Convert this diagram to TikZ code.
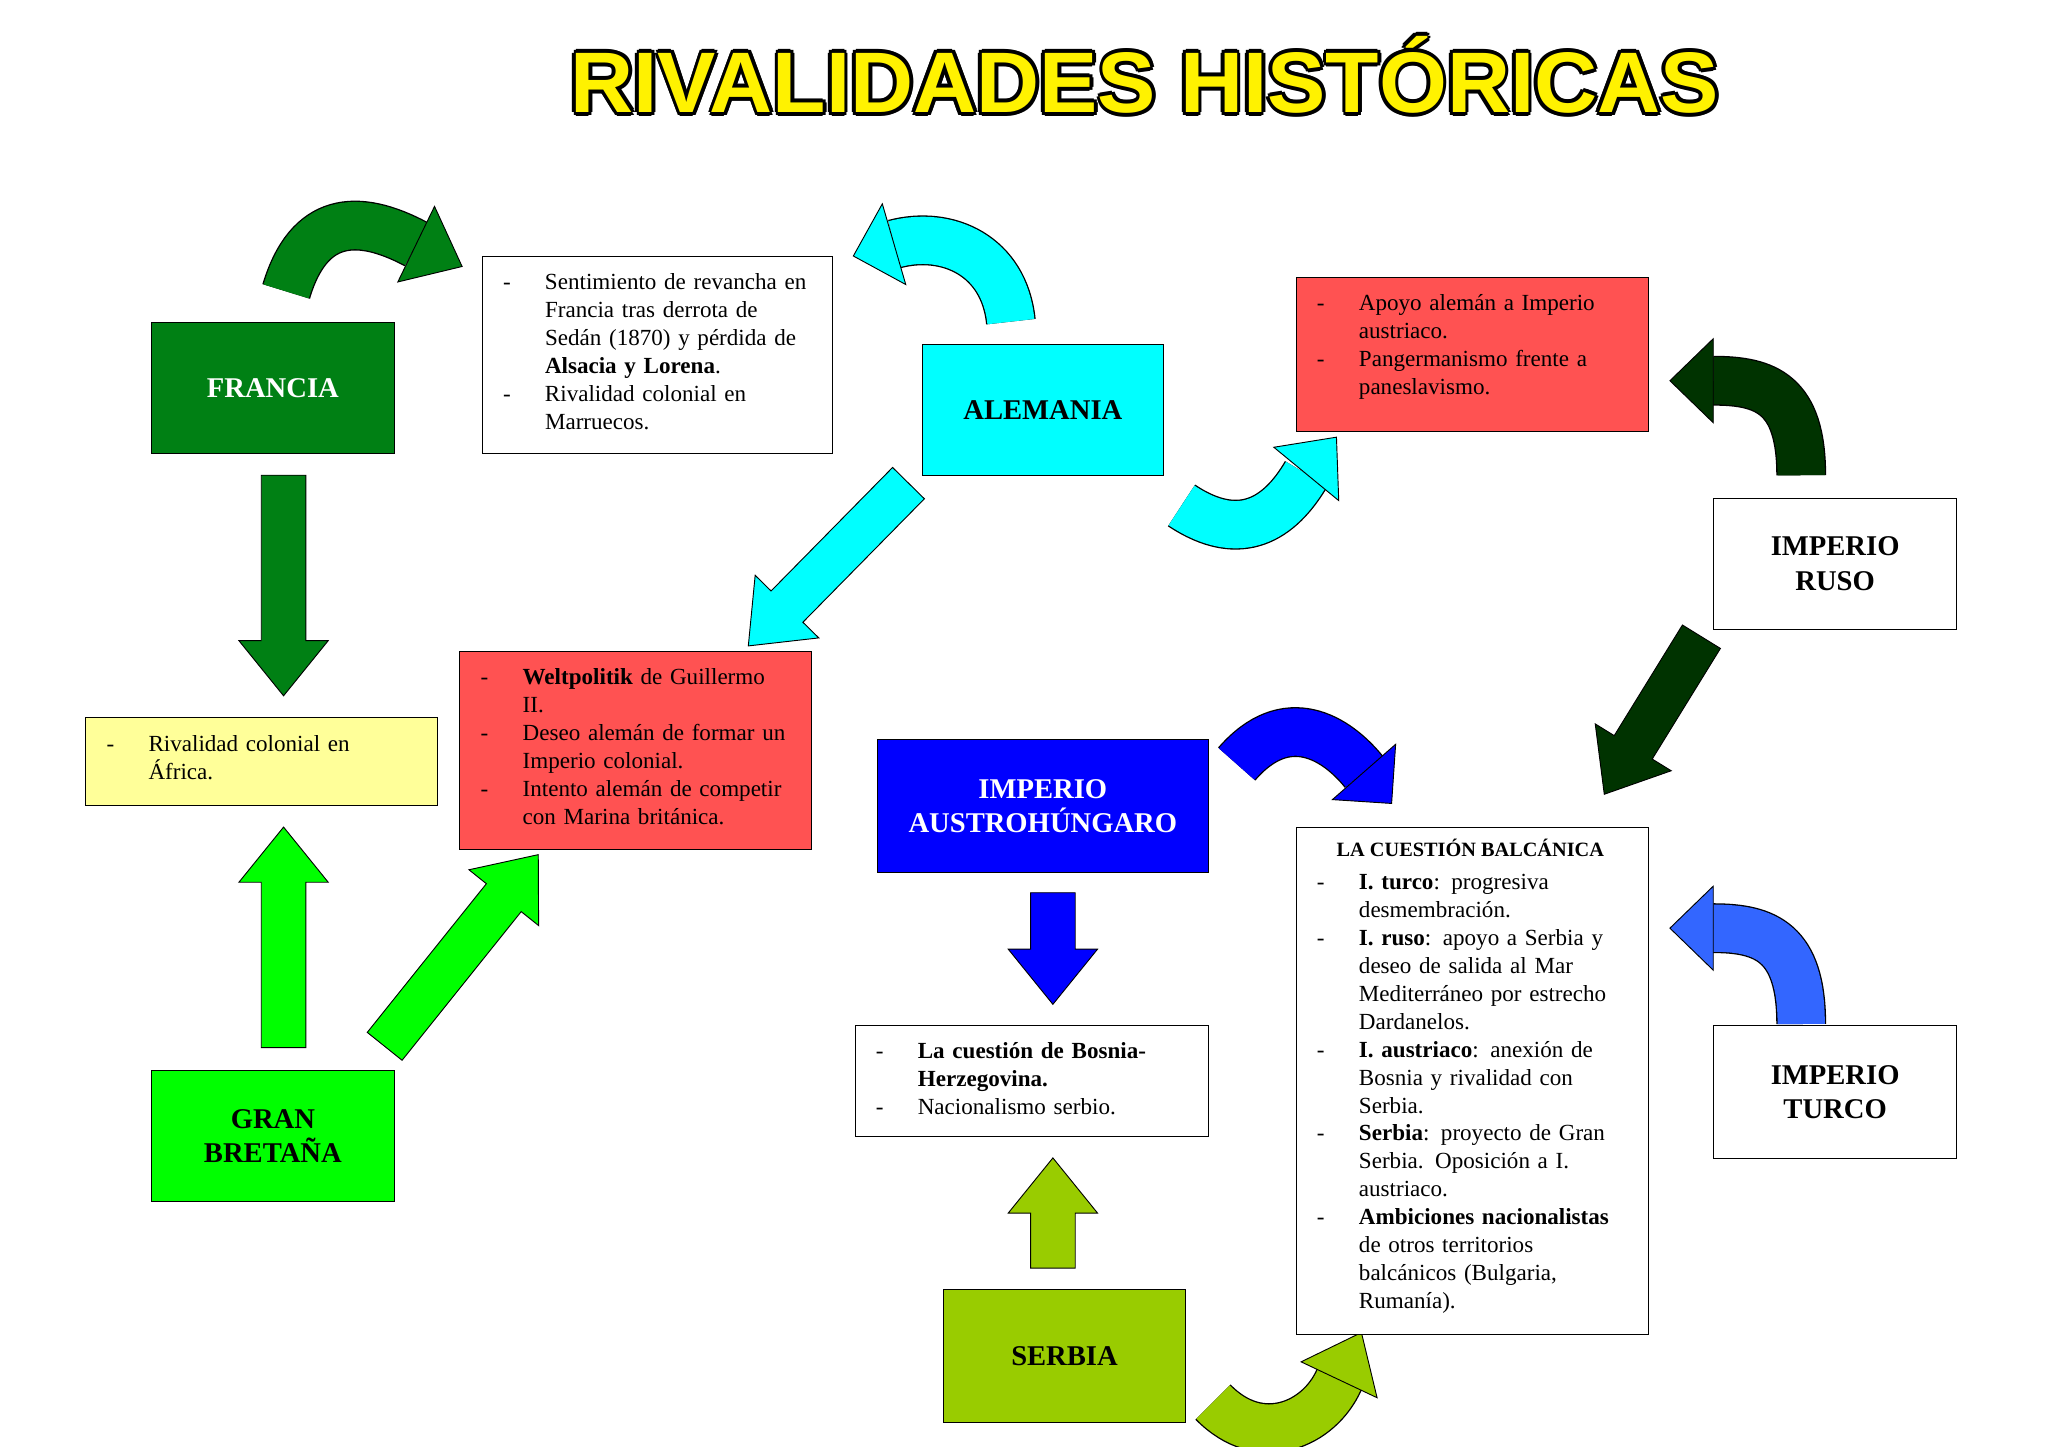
\documentclass[tikz,border=0pt]{standalone}
\usepackage{fontspec}
\setmainfont{Liberation Serif}
\newfontfamily\titlefont{Liberation Sans}
\usetikzlibrary{calc}
\definecolor{cfr}{RGB}{0,128,20}
\definecolor{cgb}{RGB}{0,255,0}
\definecolor{ccy}{RGB}{0,255,255}
\definecolor{cred}{RGB}{255,82,82}
\definecolor{cyel}{RGB}{255,255,153}
\definecolor{cbl}{RGB}{0,0,255}
\definecolor{cse}{RGB}{153,204,0}
\definecolor{cdk}{RGB}{0,51,0}
\definecolor{ctu}{RGB}{51,102,255}
\newcommand\itm{\par\noindent\hangindent=1.6cm\hangafter=1\makebox[1.6cm][l]{-}\ignorespaces}
\newcommand\body{\fontsize{25}{30.3}\selectfont}
\newcommand\hd{\fontsize{31}{37}\selectfont\bfseries}
\newcommand\barrow[5]{%
  \coordinate (bA) at #2; \coordinate (bB) at #3;
  \coordinate (bH) at ($(bB)!2.1cm!(bA)$);
  \filldraw[fill=#1,draw=black,line width=1pt]
   ($(bA)!#4!90:(bB)$) -- ($(bH)!#4!-90:(bA)$) -- ($(bH)!#5!-90:(bA)$) -- (bB)
   -- ($(bH)!#5!90:(bA)$) -- ($(bH)!#4!90:(bA)$) -- ($(bA)!#4!-90:(bB)$) -- cycle;}
\newcommand\carrow[6]{%
  \coordinate (cE) at #5; \coordinate (cT) at #6;
  \draw[black,line width=1.9cm] #2 .. controls #3 and #4 .. #5;
  \draw[#1,line width=1.8cm] #2 .. controls #3 and #4 .. #5;
  \filldraw[fill=#1,draw=black,line width=1pt]
   ($(cE)!1.6cm!90:(cT)$) -- (cT) -- ($(cE)!1.6cm!-90:(cT)$) -- cycle;}
\begin{document}
\begin{tikzpicture}[x=0.05cm,y=-0.05cm,
  cbox/.style={draw=black,line width=1pt,anchor=north west,inner sep=0pt},
  txt/.style={anchor=north west,inner sep=0pt,align=left,font=\body},
  lbl/.style={align=center,font=\hd}]
\useasboundingbox[fill=white] (0,0) rectangle (1560,1102);
\foreach \a in {0,45,...,359}{
  \node[text=black] at ($(872,57)+(\a:0.14cm)$) {\resizebox{43.7cm}{2.9cm}{\titlefont\bfseries RIVALIDADES HISTÓRICAS}};}
\node[text=yellow] (title) at (872,57) {\resizebox{43.7cm}{2.9cm}{\titlefont\bfseries RIVALIDADES HISTÓRICAS}};
\barrow{cfr}{(216,362)}{(216,530)}{0.85cm}{1.7cm}
\barrow{cgb}{(216,798)}{(216,630)}{0.85cm}{1.7cm}
\barrow{cgb}{(293,797)}{(410,651)}{0.85cm}{1.7cm}
\barrow{ccy}{(692,368)}{(570,492)}{0.85cm}{1.7cm}
\barrow{cbl}{(802,680)}{(802,765)}{0.85cm}{1.7cm}
\barrow{cse}{(802,966)}{(802,882)}{0.85cm}{1.7cm}
\barrow{cdk}{(1296,485)}{(1222,605)}{0.85cm}{1.7cm}
\carrow{cfr}{(218,222)}{(235,165)}{(272,162)}{(317,186)}{(352,203)}
\carrow{ccy}{(770,245)}{(765,195)}{(722,175)}{(681,186)}{(650,195)}
\carrow{ccy}{(900,385)}{(945,415)}{(975,395)}{(995,361)}{(1018,333)}
\carrow{cdk}{(1372,362)}{(1372,300)}{(1345,290)}{(1305,290)}{(1272,290)}
\carrow{ctu}{(1372,780)}{(1372,718)}{(1345,707)}{(1305,707)}{(1272,707)}
\carrow{cbl}{(942,582)}{(980,538)}{(1018,562)}{(1039,588)}{(1060,612)}
\carrow{cse}{(924,1068)}{(960,1105)}{(1005,1085)}{(1020,1051)}{(1037,1015)}
\node[cbox,fill=cfr,minimum width=9.25cm,minimum height=5cm] (fr) at (115,245) {};
\node[lbl,text=white] at (fr.center) {FRANCIA};
\node[cbox,fill=ccy,minimum width=9.2cm,minimum height=5cm] (al) at (702,262) {};
\node[lbl] at (al.center) {ALEMANIA};
\node[cbox,fill=white,minimum width=9.25cm,minimum height=5cm] (ru) at (1305,379) {};
\node[lbl] at (ru.center) {IMPERIO\\RUSO};
\node[cbox,fill=cbl,minimum width=12.6cm,minimum height=5.05cm] (au) at (668,563) {};
\node[lbl,text=white] at (au.center) {IMPERIO\\AUSTROHÚNGARO};
\node[cbox,fill=white,minimum width=9.25cm,minimum height=5.05cm] (tu) at (1305,781) {};
\node[lbl] at (tu.center) {IMPERIO\\TURCO};
\node[cbox,fill=cgb,minimum width=9.25cm,minimum height=5cm] (gb) at (115,815) {};
\node[lbl] at (gb.center) {GRAN\\BRETAÑA};
\node[cbox,fill=cse,minimum width=9.25cm,minimum height=5.05cm] (se) at (718,982) {};
\node[lbl] at (se.center) {SERBIA};
\node[cbox,fill=white,minimum width=13.35cm,minimum height=7.5cm] (t1) at (367,195) {};
\node[txt,text width=12.6cm] at (383,199) {\itm Sentimiento de revancha en\newline Francia tras derrota de\newline Sedán (1870) y pérdida de\newline \textbf{Alsacia y Lorena}.\itm Rivalidad colonial en\newline Marruecos.\par};
\node[cbox,fill=cred,minimum width=13.4cm,minimum height=5.85cm] (t2) at (987,211) {};
\node[txt,text width=12.6cm] at (1003,215) {\itm Apoyo alemán a Imperio\newline austriaco.\itm Pangermanismo frente a\newline paneslavismo.\par};
\node[cbox,fill=cyel,minimum width=13.4cm,minimum height=3.35cm] (t3) at (65,546) {};
\node[txt,text width=12.6cm] at (81,551) {\itm Rivalidad colonial en\newline África.\par};
\node[cbox,fill=cred,minimum width=13.4cm,minimum height=7.55cm] (t4) at (350,496) {};
\node[txt,text width=12.6cm] at (366,500) {\itm \textbf{Weltpolitik} de Guillermo\newline II.\itm Deseo alemán de formar un\newline Imperio colonial.\itm Intento alemán de competir\newline con Marina británica.\par};
\node[cbox,fill=white,minimum width=13.45cm,minimum height=4.2cm] (t5) at (651,781) {};
\node[txt,text width=12.6cm] at (667,785) {\itm \textbf{La cuestión de Bosnia-}\newline\textbf{Herzegovina.}\itm Nacionalismo serbio.\par};
\node[cbox,fill=white,minimum width=13.4cm,minimum height=19.3cm] (t6) at (987,630) {};
\node[anchor=north,inner sep=0pt,font=\fontsize{22}{25}\selectfont\bfseries] at (1120,639) {LA CUESTIÓN BALCÁNICA};
\node[txt,text width=12.6cm] at (1003,656) {\itm \textbf{I. turco}: progresiva\newline desmembración.\itm \textbf{I. ruso}: apoyo a Serbia y\newline deseo de salida al Mar\newline Mediterráneo por estrecho\newline Dardanelos.\itm \textbf{I. austriaco}: anexión de\newline Bosnia y rivalidad con\newline Serbia.\itm \textbf{Serbia}: proyecto de Gran\newline Serbia. Oposición a I.\newline austriaco.\itm \textbf{Ambiciones nacionalistas}\newline de otros territorios\newline balcánicos (Bulgaria,\newline Rumanía).\par};
\end{tikzpicture}
\end{document}
